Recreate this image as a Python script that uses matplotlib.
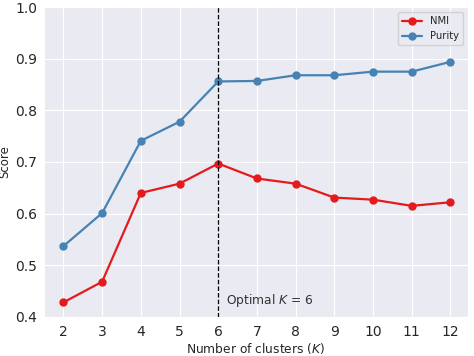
import matplotlib
matplotlib.use("Agg")
import matplotlib.pyplot as plt
import seaborn as sns

# cluster counts and scores
k_values = [2, 3, 4, 5, 6, 7, 8, 9, 10, 11, 12]
nmi = [0.428, 0.468, 0.640, 0.658, 0.697, 0.668, 0.658, 0.631, 0.627, 0.615, 0.622]
purity = [0.537, 0.601, 0.741, 0.778, 0.856, 0.857, 0.868, 0.868, 0.875, 0.875, 0.894]
optimal_k = 6

sns.set_style("darkgrid")
plt.rcParams['font.family'] = ['DejaVu Sans']

fig = plt.figure(figsize=(4.74, 3.56), dpi=100)
ax = fig.add_axes([0.093, 0.11, 0.894, 0.87])
ax.plot(k_values, nmi, "-o", color="#e41a1c", lw=1.6, ms=5, label="NMI")
ax.plot(k_values, purity, "-o", color="#4682b4", lw=1.6, ms=5, label="Purity")
ax.axvline(optimal_k, color="black", ls="--", lw=0.9)
ax.text(optimal_k + 0.2, 0.424, "Optimal $K$ = 6", fontsize=8.8, color="#333333")

ax.set_xlim(1.5, 12.45)
ax.set_ylim(0.4, 1.0)
ax.set_xticks(k_values)
ax.set_xlabel("Number of clusters ($K$)", fontsize=8.8, labelpad=1.5)
ax.set_ylabel("Score", fontsize=8.5)
ax.yaxis.set_label_coords(-0.077, 0.5)
ax.tick_params(axis="x", labelsize=10, pad=2.5)
ax.tick_params(axis="y", labelsize=10, pad=1.5)
ax.legend(loc="upper right", fontsize=7.2)

plt.savefig("out.png")
